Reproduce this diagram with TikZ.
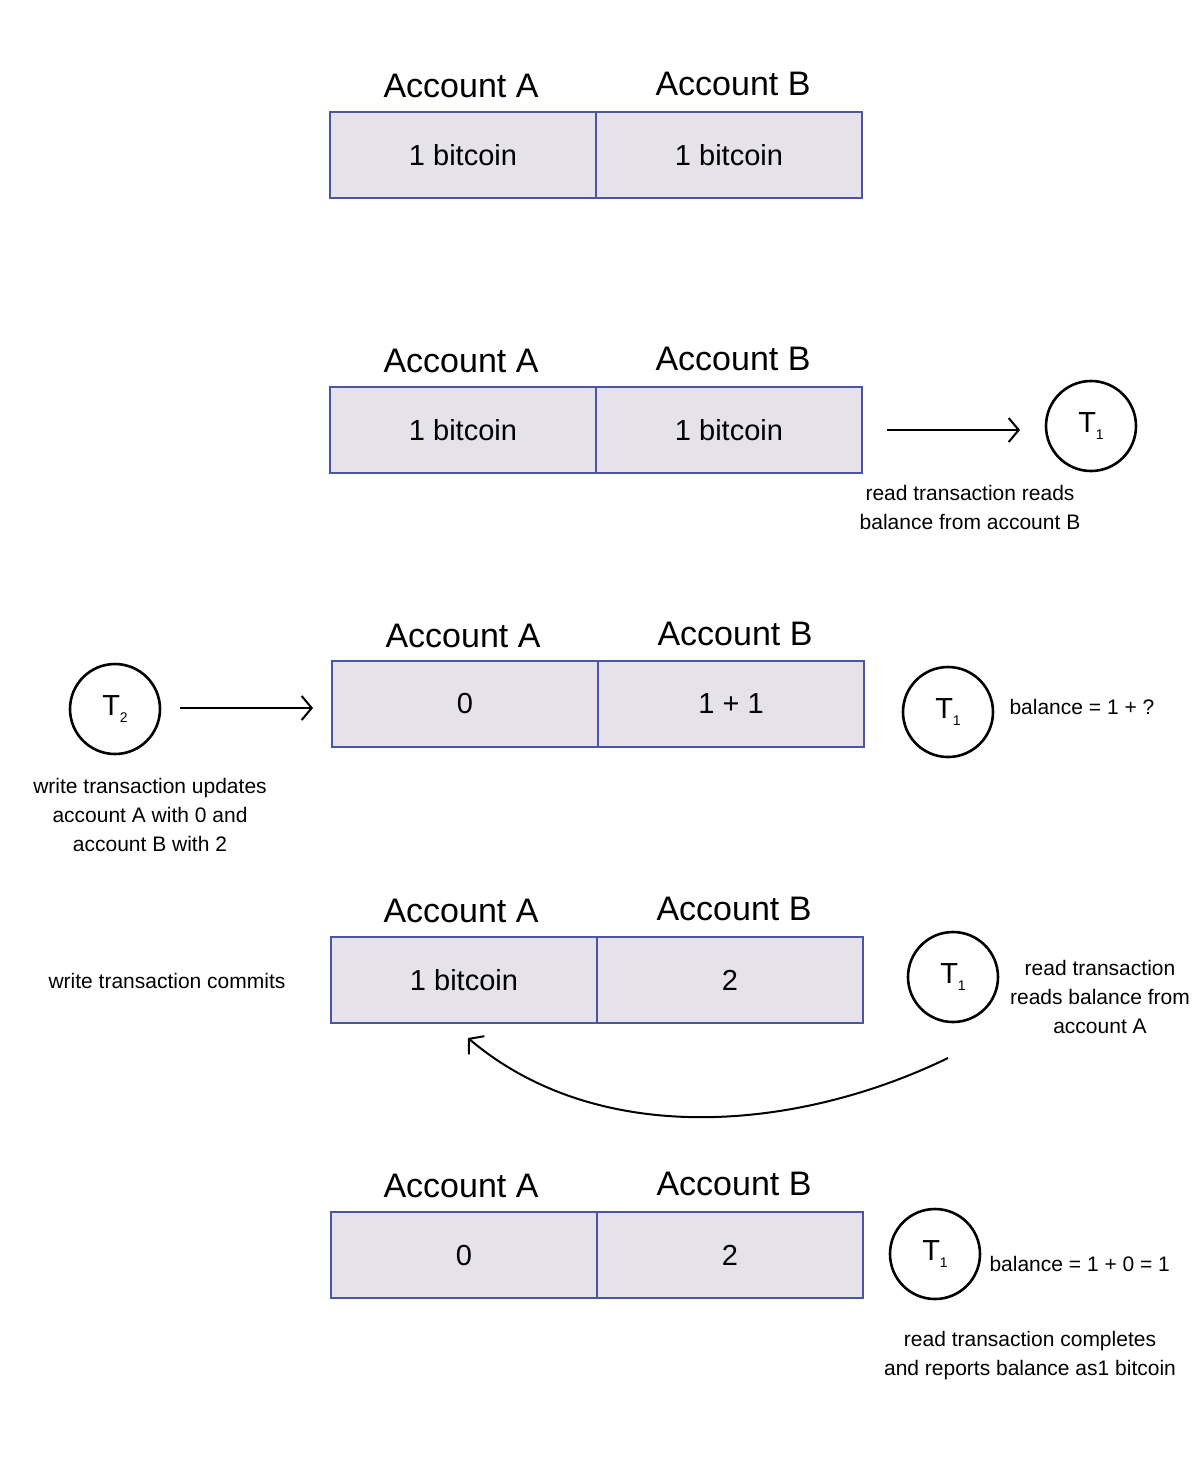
\documentclass[tikz,border=0pt]{standalone}
\usetikzlibrary{arrows.meta}
\usepackage{fontspec}
\setmainfont{Liberation Sans}
\begin{document}
\begin{tikzpicture}[x=1pt,y=-1pt,
 cell/.style={draw=bd,fill=cf,line width=2.2pt,minimum width=266pt,minimum height=86pt,inner sep=0pt,font=\fontsize{29}{30}\selectfont},
 head/.style={font=\fontsize{34}{36}\selectfont},
 tc/.style={circle,draw,line width=2.6pt,minimum size=90pt,inner sep=0pt,font=\fontsize{29}{30}\selectfont},
 lbl/.style={font=\fontsize{21}{29}\selectfont,align=center},
 arr/.style={line width=2pt,-{Straight Barb[length=10pt,width=24pt]}}]
\definecolor{bd}{HTML}{4B55A3}\definecolor{cf}{HTML}{E5E2EA}
\useasboundingbox (0,0) rectangle (1200,1460);
% row 1
\node[cell] (a1) at (463,155) {1 bitcoin};
\node[cell] (b1) at (729,155) {1 bitcoin};
\node[head] (ha1) at (461,86) {Account A};
\node[head] (hb1) at (733,84) {Account B};
% row 2
\node[cell] (a2) at (463,430) {1 bitcoin};
\node[cell] (b2) at (729,430) {1 bitcoin};
\node[head] (ha2) at (461,361) {Account A};
\node[head] (hb2) at (733,359) {Account B};
\node[tc] (t12) at (1091,426) {T\raisebox{-0.5ex}{\fontsize{14}{14}\selectfont 1}};
\coordinate (s2) at (887,430);
\coordinate (e2) at (1020,430);
\draw[arr] (s2) -- (e2);
\node[lbl] (l2) at (970,507) {read transaction reads\\balance from account B};
% row 3
\node[cell] (a3) at (465,704) {0};
\node[cell] (b3) at (731,704) {1 + 1};
\node[head] (ha3) at (463,636) {Account A};
\node[head] (hb3) at (735,634) {Account B};
\node[tc] (t23) at (115,709) {T\raisebox{-0.5ex}{\fontsize{14}{14}\selectfont 2}};
\node[tc] (t13) at (948,712) {T\raisebox{-0.5ex}{\fontsize{14}{14}\selectfont 1}};
\coordinate (s3) at (180,708);
\coordinate (e3) at (313,708);
\draw[arr] (s3) -- (e3);
\node[lbl,anchor=west] (bal3) at (1006,707) {balance = 1 + ?};
\node[lbl] (l3) at (150,815) {write transaction updates\\account A with 0 and\\account B with 2};
% row 4
\node[cell] (a4) at (464,980) {1 bitcoin};
\node[cell] (b4) at (730,980) {2};
\node[head] (ha4) at (461,911) {Account A};
\node[head] (hb4) at (734,909) {Account B};
\node[tc] (t14) at (953,977) {T\raisebox{-0.5ex}{\fontsize{14}{14}\selectfont 1}};
\node[lbl] (l4a) at (167,981) {write transaction commits};
\node[lbl] (l4b) at (1100,997) {read transaction\\reads balance from\\account A};
\coordinate (c0) at (948,1058);
\coordinate (c1) at (468,1038);
\draw[arr] (c0) .. controls (800,1130) and (600,1150) .. (c1);
% row 5
\node[cell] (a5) at (464,1255) {0};
\node[cell] (b5) at (730,1255) {2};
\node[head] (ha5) at (461,1186) {Account A};
\node[head] (hb5) at (734,1184) {Account B};
\node[tc] (t15) at (935,1254) {T\raisebox{-0.5ex}{\fontsize{14}{14}\selectfont 1}};
\node[lbl,anchor=west] (bal5) at (986,1264) {balance = 1 + 0 = 1};
\node[lbl] (l5) at (1030,1356) {read transaction completes\\and reports balance as1 bitcoin};
\end{tikzpicture}
\end{document}
